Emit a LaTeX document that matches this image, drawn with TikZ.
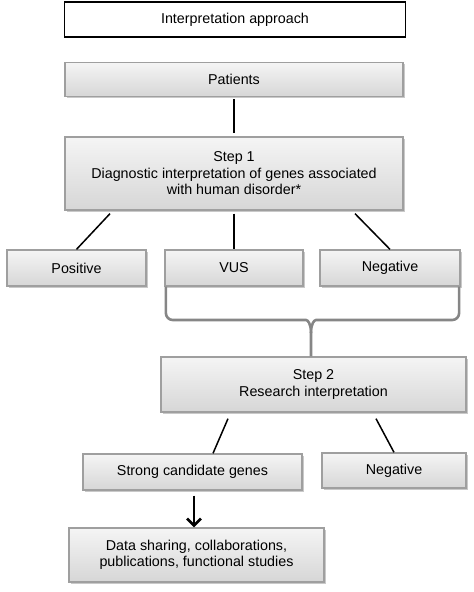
\documentclass[tikz,border=0pt]{standalone}
\usepackage{fontspec}
\setmainfont{Liberation Sans}
\usepackage{tikz}
\usetikzlibrary{calc, shadows, arrows.meta}

\tikzset{
    headbox/.style={draw=black, line width=1.6pt, fill=white, align=center,
        inner sep=0pt, font=\fontsize{14.3}{16.5}\selectfont},
    greybox/.style={draw=gray!75, line width=1.3pt, top color=gray!8, bottom color=gray!32,
        align=center, inner sep=0pt, font=\fontsize{14.3}{16.5}\selectfont,
        drop shadow={shadow xshift=1.5pt, shadow yshift=-1.8pt, fill=gray!60, opacity=0.7}},
    link/.style={line width=1.5pt, black},
    brace/.style={line width=2.6pt, gray!95},
}

\begin{document}
\begin{tikzpicture}[x=1pt, y=-1pt]
    \useasboundingbox (0,0) rectangle (474,592);

    % 1. Các hộp
    \node[headbox, minimum width=341pt, minimum height=35pt] (approach) at (235,19.5) {Interpretation approach};
    \node[greybox, minimum width=338pt, minimum height=34pt] (patients) at (234,79.5) {Patients};
    \node[greybox, minimum width=338pt, minimum height=73pt] (step1) at (234,173.5)
        {Step 1\\Diagnostic interpretation of genes associated\\with human disorder*};
    \node[greybox, minimum width=139pt, minimum height=36pt] (positive) at (76.5,268) {Positive};
    \node[greybox, minimum width=138pt, minimum height=36pt] (vus) at (234,268) {VUS};
    \node[greybox, minimum width=140pt, minimum height=36pt] (negative) at (390,268) {Negative};
    \node[greybox, minimum width=305pt, minimum height=55pt] (step2) at (313.5,384.5)
        {Step 2\\Research interpretation};
    \node[greybox, minimum width=219pt, minimum height=36pt] (strong) at (192.5,472) {Strong candidate genes};
    \node[greybox, minimum width=144pt, minimum height=35pt] (negtwo) at (394,470.5) {Negative};
    \node[greybox, minimum width=255pt, minimum height=54pt] (sharing) at (196.5,555)
        {Data sharing, collaborations,\\publications, functional studies};

    % 2. Đường nối
    \draw[link, shorten <=2pt, shorten >=3pt] (patients.south) -- (step1.north);
    \draw[link] ([xshift=-124pt, yshift=-3pt]step1.south) -- (positive.north);
    \draw[link, shorten <=3pt] (step1.south) -- (vus.north);
    \draw[link] ([xshift=121pt, yshift=-3pt]step1.south) -- (negative.north);
    \draw[link] ([xshift=-85.5pt, yshift=-6pt]step2.south) -- ([xshift=20.5pt]strong.north);
    \draw[link] ([xshift=62.5pt, yshift=-6pt]step2.south) -- (negtwo.north);
    \draw[line width=2.6pt, -{Straight Barb[length=7pt, width=14pt]}]
        ([xshift=1.5pt, yshift=-5pt]strong.south) -- ([xshift=1.5pt]strong.south |- sharing.north);

    % 3. Dấu ngoặc gộp VUS và Negative
    \coordinate (tip) at (311,320);
    \draw[brace] ([xshift=1.5pt]vus.south west) [rounded corners=7pt] |- ($(tip)+(-12,0)$) [sharp corners]
        .. controls ($(tip)+(-3,0)$) and ($(tip)+(0,4)$) .. ($(tip)+(0,13)$) -- (tip |- step2.north);
    \draw[brace] ([xshift=-1.5pt]negative.south east) [rounded corners=7pt] |- ($(tip)+(12,0)$) [sharp corners]
        .. controls ($(tip)+(3,0)$) and ($(tip)+(0,4)$) .. ($(tip)+(0,13)$);
\end{tikzpicture}
\end{document}
